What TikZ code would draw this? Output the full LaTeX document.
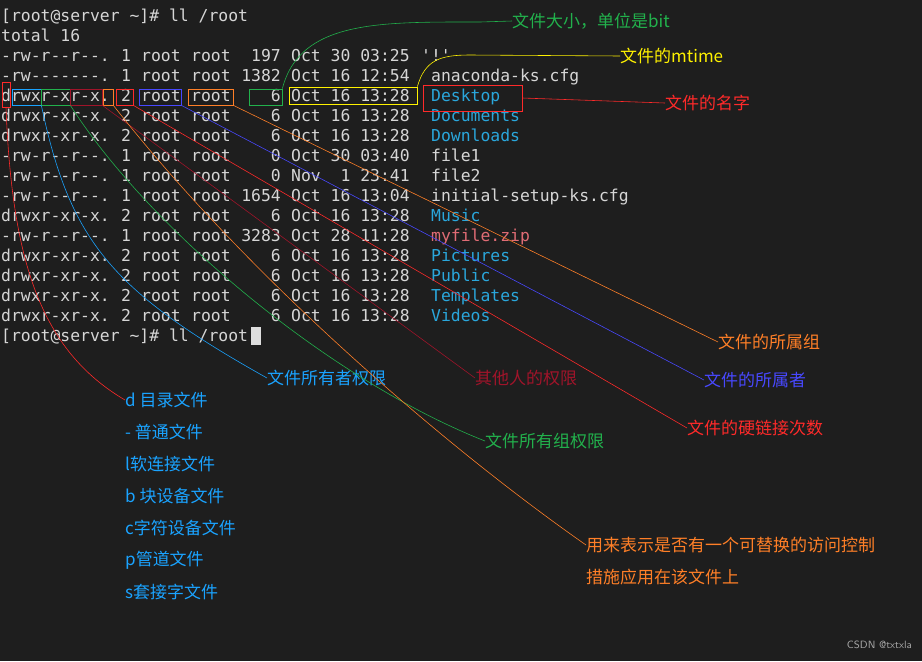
\documentclass[tikz,border=0pt]{standalone}
\usepackage{fontspec}
\setmonofont{DejaVu Sans Mono}
\newfontfamily\cjk{Noto Sans CJK SC}
\usetikzlibrary{fit}
\definecolor{termbg}{HTML}{1E1E1E}
\definecolor{termfg}{HTML}{D6D6D6}
\definecolor{dircol}{HTML}{2AA7DC}
\definecolor{zipcol}{HTML}{E06C75}
\definecolor{cgreen}{HTML}{22B14C}
\definecolor{cyellow}{HTML}{FFF200}
\definecolor{cred}{HTML}{FF2A2A}
\definecolor{corange}{HTML}{FF7F27}
\definecolor{cblue}{HTML}{4848FF}
\definecolor{cdark}{HTML}{A0142A}
\definecolor{csky}{HTML}{1AA3FF}
\begin{document}
\begin{tikzpicture}[x=0.03cm, y=-0.03cm,
  term/.style={font=\ttfamily\fontsize{14}{16}\selectfont, text=termfg, inner sep=0, anchor=base west},
  mark box/.style={draw=#1, inner sep=0, line width=0.6pt},
  note/.style={font=\cjk\fontsize{14.5}{16}\selectfont, text=#1, inner sep=0, anchor=west},
  link/.style={draw=#1, line width=0.5pt}]
\fill[termbg] (0,0) rectangle (922,661);
\useasboundingbox (0,0) rectangle (922,661);
% terminal lines
\node[term] (prompt1) at (1,21) {[root@server \textasciitilde]\# ll /root};
\node[term] (total) at (1,41) {total 16};
\foreach \r/\perm/\n/\size/\date/\nx/\name/\c in {
  2/-rw-r--r--./1/197/Oct 30 03:25/421/'!'/termfg,
  3/-rw-------./1/1382/Oct 16 12:54/431/anaconda-ks.cfg/termfg,
  4/drwxr-xr-x./2/6/Oct 16 13:28/431/Desktop/dircol,
  5/drwxr-xr-x./2/6/Oct 16 13:28/431/Documents/dircol,
  6/drwxr-xr-x./2/6/Oct 16 13:28/431/Downloads/dircol,
  7/-rw-r--r--./1/0/Oct 30 03:40/431/file1/termfg,
  8/-rw-r--r--./1/0/Nov~~1 23:41/431/file2/termfg,
  9/-rw-r--r--./1/1654/Oct 16 13:04/431/initial-setup-ks.cfg/termfg,
  10/drwxr-xr-x./2/6/Oct 16 13:28/431/Music/dircol,
  11/-rw-r--r--./1/3283/Oct 28 11:28/431/myfile.zip/zipcol,
  12/drwxr-xr-x./2/6/Oct 16 13:28/431/Pictures/dircol,
  13/drwxr-xr-x./2/6/Oct 16 13:28/431/Public/dircol,
  14/drwxr-xr-x./2/6/Oct 16 13:28/431/Templates/dircol,
  15/drwxr-xr-x./2/6/Oct 16 13:28/431/Videos/dircol}
{
  \node[term] (perm\r) at (1,21+20*\r) {\perm};
  \node[term] (links\r) at (121,21+20*\r) {\n};
  \node[term] (owner\r) at (141,21+20*\r) {root};
  \node[term] (group\r) at (191,21+20*\r) {root};
  \node[term, anchor=base east] (size\r) at (281,21+20*\r) {\size};
  \node[term] (date\r) at (291,21+20*\r) {\date};
  \node[term, text=\c] (name\r) at (\nx,21+20*\r) {\name};
}
\node[term] (prompt2) at (1,341) {[root@server \textasciitilde]\# ll /root};
\fill[termfg!80] (251,327) rectangle (261,345);
% boxes
\node[mark box=cred, fit={(2,82) (10,107)}] (bxtype) {};
\node[mark box=csky, fit={(12,89) (41,105)}] (bxuser) {};
\node[mark box=cgreen, fit={(41,89) (70,105)}] (bxgrp) {};
\node[mark box=cdark, fit={(70,89) (102,105)}] (bxoth) {};
\node[mark box=corange, fit={(103,89) (113,105)}] (bxacl) {};
\node[mark box=cred, fit={(116,89) (133,105)}] (bxlink) {};
\node[mark box=cblue, fit={(139,89) (181,105)}] (bxowner) {};
\node[mark box=corange, fit={(188,89) (233,105)}] (bxgroup) {};
\node[mark box=cgreen, fit={(249,89) (282,105)}] (bxsize) {};
\node[mark box=cyellow, fit={(289,87) (417,104)}] (bxdate) {};
\node[mark box=cred, fit={(423,85) (522,111)}] (bxname) {};
% notes
\node[note=cgreen] (nsize) at (512,21) {文件大小，单位是bit};
\node[note=cyellow] (nmtime) at (620,56) {文件的mtime};
\node[note=cred] (nname) at (665,103) {文件的名字};
\node[note=corange] (ngroup) at (718,342) {文件的所属组};
\node[note=cblue] (nowner) at (704,380) {文件的所属者};
\node[note=cdark] (noth) at (475,378) {其他人的权限};
\node[note=csky] (nuser) at (267,378) {文件所有者权限};
\node[note=cred] (nlink) at (687,428) {文件的硬链接次数};
\node[note=cgreen] (ngrp) at (485,441) {文件所有组权限};
\node[note=corange] (nacl) at (586,545) {用来表示是否有一个可替换的访问控制};
\node[note=corange] (nacl2) at (586,577) {措施应用在该文件上};
\foreach \t [count=\k from 0] in {d 目录文件,- 普通文件,l软连接文件,b 块设备文件,c字符设备文件,p管道文件,s套接字文件}
  \node[note=csky] (ntype\k) at (125,400+32*\k) {\t};
% connectors
\draw[link=cgreen] (bxsize.north east) .. controls (300,20) and (380,22) .. (480,22) -- (nsize.west);
\draw[link=cyellow] (bxdate.north east) .. controls (425,60) and (440,55) .. (470,55) -- (nmtime.west);
\draw[link=cred] (bxname.east) -- (nname.west);
\draw[link=corange] (bxgroup.south east) -- (ngroup.west);
\draw[link=cblue] (bxowner.south east) -- (nowner.west);
\draw[link=cred] (bxlink.south east) -- (nlink.west);
\draw[link=cdark] (bxoth.south east) -- (noth.west);
\draw[link=cgreen] (bxgrp.south east) .. controls (150,230) and (330,380) .. (ngrp.west);
\draw[link=csky] (bxuser.south east) .. controls (70,240) and (110,290) .. (nuser.west);
\draw[link=corange] (bxacl.south east) .. controls (250,280) and (450,450) .. (nacl.west);
\draw[link=cred] (bxtype.south) .. controls (12,260) and (40,350) .. (ntype0.west);
\node[font=\sffamily\fontsize{9}{10}\selectfont, text=gray!70, anchor=south east] (wm) at (916,653) {CSDN @txtxla};
\end{tikzpicture}
\end{document}
